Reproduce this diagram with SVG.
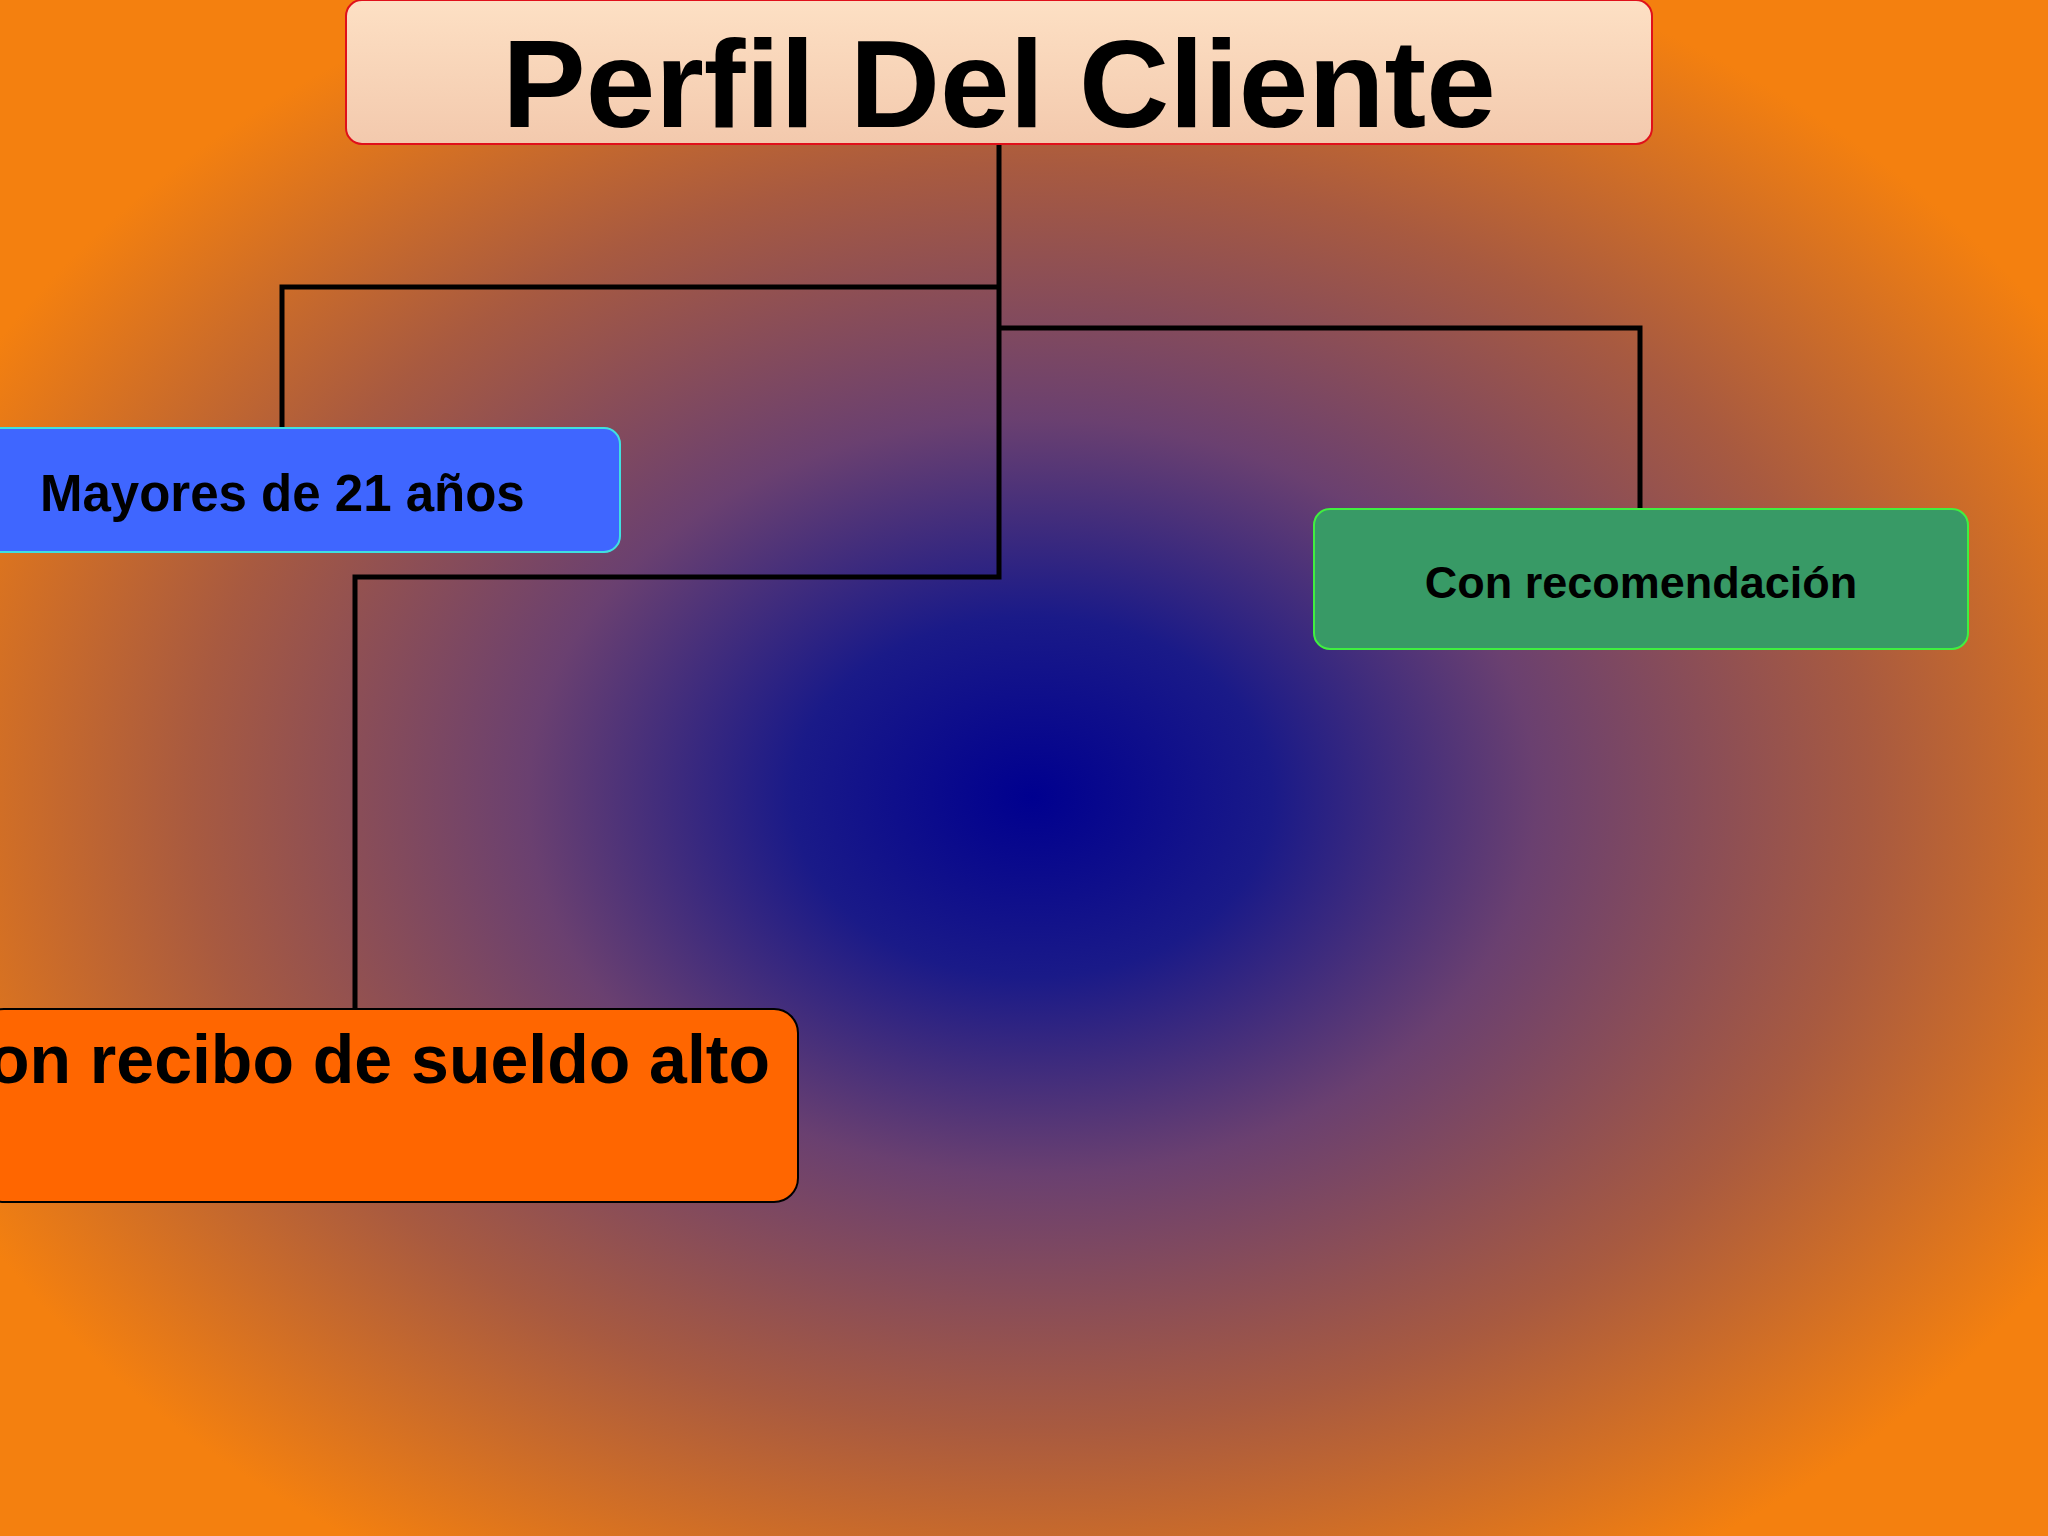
<svg xmlns="http://www.w3.org/2000/svg" width="2048" height="1536" viewBox="0 0 2048 1536">
<defs>
<radialGradient id="bg" gradientUnits="userSpaceOnUse" cx="1032" cy="797" r="1000" gradientTransform="translate(1032 797) scale(1.2 0.9) translate(-1032 -797)">
<stop offset="0" stop-color="#00008f"/>
<stop offset="0.2" stop-color="#1a1a88"/>
<stop offset="0.42" stop-color="#6a4070"/>
<stop offset="0.7" stop-color="#a85a40"/>
<stop offset="1" stop-color="#f4800f"/>
</radialGradient>
<linearGradient id="tg" x1="0" y1="0" x2="0" y2="1">
<stop offset="0" stop-color="#fde0c4"/>
<stop offset="1" stop-color="#f3c9ad"/>
</linearGradient>
<style>
.t{font-family:"Liberation Sans",Arial,sans-serif;font-weight:bold;fill:#000}
.c{fill:none;stroke:#000;stroke-width:5}
</style>
</defs>
<rect width="2048" height="1536" fill="url(#bg)"/>
<g id="connectors">
<polyline class="c" points="999,144 999,577 355,577 355,1009"/>
<polyline class="c" points="999,287 282,287 282,428"/>
<polyline class="c" points="999,328 1640,328 1640,509"/>
</g>
<g id="title">
<rect x="346" y="0" width="1306" height="144" rx="16" fill="url(#tg)" stroke="#e0101a" stroke-width="2"/>
<text class="t" x="999" y="127" font-size="125" text-anchor="middle">Perfil Del Cliente</text>
</g>
<g id="mayores">
<rect x="-20" y="428" width="640" height="124" rx="16" fill="#3f66ff" stroke="#40e0e0" stroke-width="2"/>
<text class="t" x="40" y="511" font-size="51">Mayores de 21 años</text>
</g>
<g id="recomendacion">
<rect x="1314" y="509" width="654" height="140" rx="16" fill="#389a66" stroke="#40f040" stroke-width="2"/>
<text class="t" x="1641" y="598" font-size="45" text-anchor="middle">Con recomendación</text>
</g>
<g id="recibo">
<rect x="-20" y="1009" width="818" height="193" rx="24" fill="#ff6600" stroke="#000" stroke-width="2"/>
<text class="t" x="770" y="1083" font-size="68" text-anchor="end">Con recibo de sueldo alto</text>
</g>
</svg>
